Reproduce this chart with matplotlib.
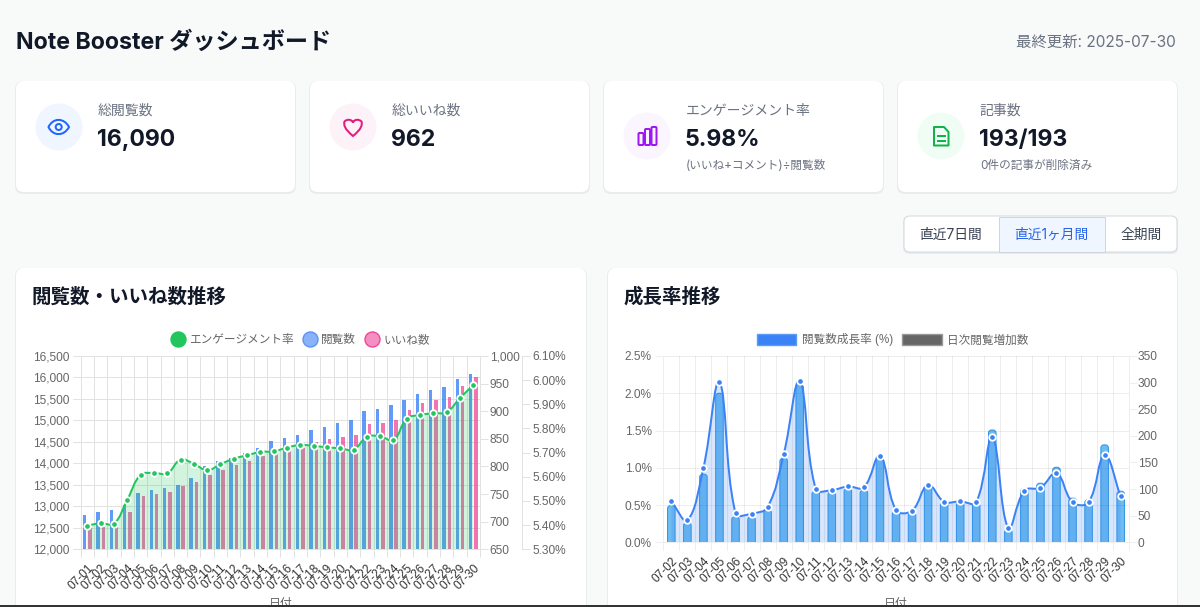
import matplotlib
matplotlib.use('Agg')
from matplotlib import pyplot as plt
from matplotlib.lines import Line2D
from matplotlib.patches import Circle, FancyBboxPatch, Patch, PathPatch, Rectangle
from matplotlib.path import Path
from matplotlib.ticker import FixedLocator, FuncFormatter

W, H = 1200, 607
UI_FONT = ['Inter', 'Noto Sans CJK JP', 'DejaVu Sans']
CHART_FONT = ['Liberation Sans', 'Noto Sans CJK JP', 'DejaVu Sans']

days_left = [f'07-{d:02d}' for d in range(1, 31)]
days_right = days_left[1:]

views = [12800, 12877, 12908, 13030, 13320, 13375, 13420, 13490, 13650, 13950,
         14050, 14130, 14250, 14360, 14530, 14600, 14650, 14770, 14850, 14935,
         15010, 15230, 15260, 15360, 15475, 15615, 15700, 15785, 15970, 16090]
likes = [688, 691, 694, 718, 747, 751, 754, 765, 772, 785,
         794, 803, 810, 819, 824, 830, 833, 845, 849, 853,
         857, 877, 879, 884, 903, 914, 920, 926, 946, 962]
engagement = [5.398, 5.408, 5.406, 5.505, 5.608, 5.616, 5.614, 5.671, 5.654, 5.627,
              5.652, 5.675, 5.689, 5.703, 5.705, 5.721, 5.732, 5.728, 5.722, 5.718,
              5.712, 5.765, 5.768, 5.752, 5.841, 5.856, 5.863, 5.868, 5.926, 5.98]

growth = [0.55, 0.295, 1.0, 2.147, 0.39, 0.385, 0.474, 1.18, 2.165, 0.716,
          0.70, 0.75, 0.738, 1.163, 0.434, 0.425, 0.77, 0.545, 0.55, 0.54,
          1.41, 0.19, 0.693, 0.733, 0.93, 0.54, 0.537, 1.17, 0.617]
daily_views = [69, 37, 128, 280, 48, 48, 61, 158, 296, 96,
               95, 101, 98, 158, 58, 56, 108, 75, 75, 73,
               211, 24, 101, 111, 141, 83, 80, 183, 96]

card_labels = ['総閲覧数', '総いいね数', 'エンゲージメント率', '記事数']
card_values = ['16,090', '962', '5.98%', '193/193']
card_notes = ['', '', '(いいね+コメント)÷閲覧数', '0件の記事が削除済み']
range_buttons = ['直近7日間', '直近1ヶ月間', '全期間']


def px(n):
    return n * 0.72


def add_axes_px(fig, left, top, right, bottom):
    return fig.add_axes([left / W, 1 - bottom / H, (right - left) / W, (bottom - top) / H])


def card(bg, x0, y0, x1, y1, r=8, edge='none'):
    # soft shadow first, then the white box
    bg.add_patch(FancyBboxPatch((x0 - 1, y0), x1 - x0 + 2, y1 - y0 + 2,
                                boxstyle=f'round,pad=0,rounding_size={r}',
                                fc='#e9ecef', ec='none'))
    bg.add_patch(FancyBboxPatch((x0, y0), x1 - x0, y1 - y0,
                                boxstyle=f'round,pad=0,rounding_size={r}',
                                fc='white', ec=edge, lw=px(1)))


def smooth_path(xs, ys, width_px, height_px, tension=0.4):
    # same bezier control points as a chart.js line with tension
    sx = width_px / (max(xs) - min(xs) + 1)
    pts = list(zip(xs, ys))
    verts = [pts[0]]
    codes = [Path.MOVETO]
    n = len(pts)
    ctrl = []
    for i in range(n):
        p0 = pts[max(i - 1, 0)]
        p1 = pts[i]
        p2 = pts[min(i + 1, n - 1)]
        d01 = ((p1[0] - p0[0]) ** 2 * sx ** 2 + ((p1[1] - p0[1]) * height_px) ** 2) ** 0.5
        d12 = ((p2[0] - p1[0]) ** 2 * sx ** 2 + ((p2[1] - p1[1]) * height_px) ** 2) ** 0.5
        total = d01 + d12 or 1
        fa = tension * d01 / total
        fb = tension * d12 / total
        ctrl.append(((p1[0] - fa * (p2[0] - p0[0]), p1[1] - fa * (p2[1] - p0[1])),
                     (p1[0] + fb * (p2[0] - p0[0]), p1[1] + fb * (p2[1] - p0[1]))))
    for i in range(1, n):
        verts += [ctrl[i - 1][1], ctrl[i][0], pts[i]]
        codes += [Path.CURVE4] * 3
    return verts, codes


def draw_smooth_line(ax, xs, values, color, fill, ymin, ymax, width_px, height_px):
    scale = ymax - ymin
    norm = [(v - ymin) / scale for v in values]
    verts, codes = smooth_path(xs, norm, width_px, height_px)
    verts = [(x, ymin + y * scale) for x, y in verts]
    area = verts + [(xs[-1], ymin), (xs[0], ymin), (xs[0], ymin)]
    ax.add_patch(PathPatch(Path(area, codes + [Path.LINETO, Path.LINETO, Path.CLOSEPOLY]),
                           fc=fill, ec='none', zorder=3))
    ax.add_patch(PathPatch(Path(verts, codes), fc='none', ec=color, lw=px(2), zorder=4))
    ax.plot(xs, values, ls='none', marker='o', ms=px(6.5), mfc=color, mec='white',
            mew=px(1.8), zorder=5, clip_on=False)


def round_top_bars(ax, xs, values, width, ymax, width_px, height_px, radius_px=3):
    # chart.js borderRadius: the lower corners hang below the axis and get clipped
    x_per_px = len(xs) / width_px
    y_per_px = ymax / height_px
    for x, v in zip(xs, values):
        ax.add_patch(FancyBboxPatch((x - width / 2, -ymax * 0.05), width, v + ymax * 0.05,
                                    boxstyle=f'round,pad=0,rounding_size={radius_px * x_per_px}',
                                    mutation_aspect=y_per_px / x_per_px,
                                    fc=(54 / 255, 162 / 255, 235 / 255, 0.72),
                                    ec='#2f96e6', lw=px(1)))


def style_category_axis(ax, labels, tick_color, grid_color=None, grid_alpha=1):
    n = len(labels)
    ax.set_xlim(-0.5, n - 0.5)
    ax.set_xticks(range(n))
    ax.set_xticklabels(labels, rotation=45, ha='right', va='top', rotation_mode='anchor',
                       fontsize=8.6, color='#333333', family=CHART_FONT)
    ax.tick_params(axis='x', which='major', length=0, pad=9)
    ax.xaxis.set_minor_locator(FixedLocator([i - 0.5 for i in range(n + 1)]))
    ax.tick_params(axis='x', which='minor', length=px(8), color=tick_color, width=px(1))
    grid_color = grid_color or tick_color
    ax.grid(True, axis='x', which='minor', color=grid_color, alpha=grid_alpha, lw=px(1))
    ax.grid(True, axis='y', which='major', color=grid_color, alpha=grid_alpha, lw=px(1))


def style_value_axis(ax, side, ticks, fmt, grid_color, pad=2.5):
    ax.set_yticks(ticks)
    ax.yaxis.set_major_formatter(FuncFormatter(fmt))
    ax.tick_params(axis='y', length=px(8), width=px(1), color=grid_color, labelcolor='#666666',
                   labelsize=8.6, pad=pad)
    for label in ax.get_yticklabels():
        label.set_family(CHART_FONT)
    for name, spine in ax.spines.items():
        spine.set_visible(name == side or name == 'bottom')
        spine.set_color(grid_color)
        spine.set_linewidth(px(1))


plt.rcParams['font.family'] = UI_FONT
fig = plt.figure(figsize=(W / 100, H / 100), dpi=100, facecolor='#f8fafa')

bg = fig.add_axes([0, 0, 1, 1], zorder=0)
bg.set_xlim(0, W)
bg.set_ylim(H, 0)
bg.axis('off')

bg.text(16, 43, 'Note Booster ダッシュボード', fontsize=16.7, fontweight='bold', color='#111827', va='center')
bg.text(1176, 42, '最終更新: 2025-07-30', fontsize=11.1, color='#6b7280', va='center', ha='right')

card_x = [16, 310, 604, 898]
icon_y = [127, 127, 136, 136]
icon_bg = ['#eff6ff', '#fdf2f8', '#faf5ff', '#f0fdf4']
for i, x in enumerate(card_x):
    card(bg, x, 81, x + 279, 192)
    bg.add_patch(Circle((x + 43, icon_y[i]), 23.5, fc=icon_bg[i], ec='none'))
    bg.text(x + 82, 111, card_labels[i], fontsize=10, color='#6b7280', va='center')
    bg.text(x + 81, 140, card_values[i], fontsize=16.6, fontweight='bold', color='#111827', va='center')
    if card_notes[i]:
        bg.text(x + 82, 166, card_notes[i], fontsize=8.4, color='#6b7280', va='center')

# eye icon
bg.add_patch(PathPatch(Path([(48.5, 127), (53, 117.5), (64, 117.5), (69, 127), (64, 136.5), (53, 136.5), (48.5, 127), (48.5, 127)],
                            [Path.MOVETO, Path.CURVE4, Path.CURVE4, Path.CURVE4, Path.CURVE4, Path.CURVE4, Path.CURVE4, Path.CLOSEPOLY]),
                       fc='none', ec='#1f66ff', lw=px(2)))
bg.add_patch(Circle((58.7, 127), 3, fc='none', ec='#1f66ff', lw=px(2)))
# heart icon
bg.add_patch(PathPatch(Path([(353, 136), (344.5, 129), (343.5, 125), (344.5, 121.5), (347, 119), (351.5, 119), (353, 122.5),
                             (354.5, 119), (359, 119), (361.5, 121.5), (362.5, 125), (361.5, 129), (353, 136), (353, 136)],
                            [Path.MOVETO] + [Path.CURVE4] * 12 + [Path.CLOSEPOLY]),
                       fc='none', ec='#e6197f', lw=px(2)))
# bars icon
for bx, top in zip([638.5, 645, 651.5], [133, 129, 127]):
    bg.add_patch(FancyBboxPatch((bx, top), 5, 145 - top, boxstyle='round,pad=0,rounding_size=1',
                                fc='none', ec='#a016f5', lw=px(2)))
# document icon
bg.add_patch(PathPatch(Path([(934, 127), (944, 127), (948.5, 132), (948.5, 145.5), (934, 145.5), (934, 127)],
                            [Path.MOVETO, Path.LINETO, Path.LINETO, Path.LINETO, Path.LINETO, Path.CLOSEPOLY]),
                       fc='none', ec='#0fb34a', lw=px(2), joinstyle='round'))
bg.plot([938, 945], [136, 136], color='#0fb34a', lw=px(2))
bg.plot([938, 945], [141, 141], color='#0fb34a', lw=px(2))

# range buttons
card(bg, 904, 216, 1177, 252, r=6, edge='#d5d9df')
bg.add_patch(Rectangle((998.5, 216.5), 106.5, 35, fc='#eff6ff', ec='#d1d5db', lw=px(1)))
for bx, label, color in zip([951, 1051, 1141], range_buttons, ['#374151', '#2563eb', '#374151']):
    bg.text(bx, 235, label, fontsize=9.9, color=color, ha='center', va='center')

card(bg, 16, 268, 586, 640)
card(bg, 608, 268, 1177, 640)
bg.text(31.5, 297, '閲覧数・いいね数推移', fontsize=14, fontweight='bold', color='#111827', va='center')
bg.text(624, 297, '成長率推移', fontsize=14, fontweight='bold', color='#111827', va='center')

# left chart
L, T, R, B = 80.7, 356, 480, 549.3
grid_left = '#e2e2e2'
xs_left = list(range(len(days_left)))

ax_views = add_axes_px(fig, L, T, R, B)
ax_views.set_zorder(1)
ax_views.patch.set_visible(False)
ax_views.set_axisbelow(True)
ax_views.bar([x - 0.2 for x in xs_left], views, width=0.26, color='#3b82f6', alpha=0.8)
ax_views.set_ylim(12000, 16500)
style_category_axis(ax_views, days_left, grid_left)
style_value_axis(ax_views, 'left', range(12000, 17000, 500), lambda v, _: f'{v:,.0f}', grid_left)

ax_likes = ax_views.twinx()
ax_likes.set_zorder(2)
ax_likes.bar([x + 0.2 for x in xs_left], likes, width=0.26, color='#ec4899', alpha=0.75)
ax_likes.set_ylim(650, 1000)
style_value_axis(ax_likes, 'right', range(650, 1050, 50), lambda v, _: f'{v:,.0f}', grid_left, pad=1.2)

ax_rate = ax_views.twinx()
ax_rate.set_zorder(3)
ax_rate.spines['right'].set_position(('outward', px(42)))
ax_rate.set_ylim(5.30, 6.10)
draw_smooth_line(ax_rate, xs_left, engagement, '#22c55e', (34 / 255, 197 / 255, 94 / 255, 0.2),
                 5.30, 6.10, R - L, B - T)
style_value_axis(ax_rate, 'right', [5.3 + 0.1 * i for i in range(9)], lambda v, _: f'{v:.2f}%', grid_left, pad=1.8)
ax_rate.spines['bottom'].set_visible(False)
ax_rate.set_xlim(-0.5, len(days_left) - 0.5)

ax_rate.legend(handles=[
    Line2D([], [], ls='none', marker='o', ms=px(15), mfc='#22c55e', mec='#22c55e', label='エンゲージメント率'),
    Line2D([], [], ls='none', marker='o', ms=px(15), mfc='#8ab2f8', mec='#5b93f5', label='閲覧数'),
    Line2D([], [], ls='none', marker='o', ms=px(15), mfc='#f48fc3', mec='#ec4899', label='いいね数'),
], loc='center', bbox_to_anchor=((301 - L) / (R - L), (B - 340) / (B - T)), ncol=3, frameon=False,
    handlelength=1.0, handletextpad=0.45, columnspacing=0.9, borderpad=0, labelcolor='#666666',
    prop={'family': CHART_FONT, 'size': 8.4})

# right chart
L2, T2, R2, B2 = 663.3, 356, 1128.7, 542.3
grid_right = '#eeeeee'
xs_right = list(range(len(days_right)))

ax_growth = add_axes_px(fig, L2, T2, R2, B2)
ax_growth.set_zorder(2)
ax_growth.patch.set_visible(False)
ax_growth.set_ylim(0, 2.5)
# see-through grey so the grid stays faint where it crosses the bars
style_category_axis(ax_growth, days_right, grid_right, grid_color='black', grid_alpha=0.07)
style_value_axis(ax_growth, 'left', [0, 0.5, 1.0, 1.5, 2.0, 2.5], lambda v, _: f'{v:.1f}%', grid_right)
draw_smooth_line(ax_growth, xs_right, growth, '#3b82f6', (59 / 255, 130 / 255, 246 / 255, 0.2),
                 0, 2.5, R2 - L2, B2 - T2)

ax_daily = ax_growth.twinx()
ax_daily.set_zorder(1)
round_top_bars(ax_daily, xs_right, daily_views, 0.47, 350, R2 - L2, B2 - T2)
ax_daily.set_ylim(0, 350)
ax_daily.set_xlim(-0.5, len(days_right) - 0.5)
style_value_axis(ax_daily, 'right', range(0, 400, 50), lambda v, _: f'{v:.0f}', grid_right, pad=0.8)

ax_growth.legend(handles=[
    Patch(fc='#3b82f6', ec='#5b9bf5', label='閲覧数成長率 (%)'),
    Patch(fc='#666666', ec='#999999', label='日次閲覧増加数'),
], loc='center', bbox_to_anchor=((892.5 - L2) / (R2 - L2), (B2 - 340) / (B2 - T2)), ncol=2, frameon=False,
    handlelength=3.4, handleheight=1.0, handletextpad=0.45, columnspacing=0.8, borderpad=0, labelcolor='#666666',
    prop={'family': CHART_FONT, 'size': 8.4})

# x axis titles sit right on the edge of the screenshot and get cut off
bg.text(281, 604, '日付', fontsize=8.6, color='#666666', ha='center', va='center', family=CHART_FONT, zorder=5)
bg.text(896, 604, '日付', fontsize=8.6, color='#666666', ha='center', va='center', family=CHART_FONT, zorder=5)
bg.add_patch(Rectangle((0, 605), W, 2, fc='#333333', ec='none', zorder=6))

fig.savefig('out.png', dpi=100, facecolor=fig.get_facecolor())
